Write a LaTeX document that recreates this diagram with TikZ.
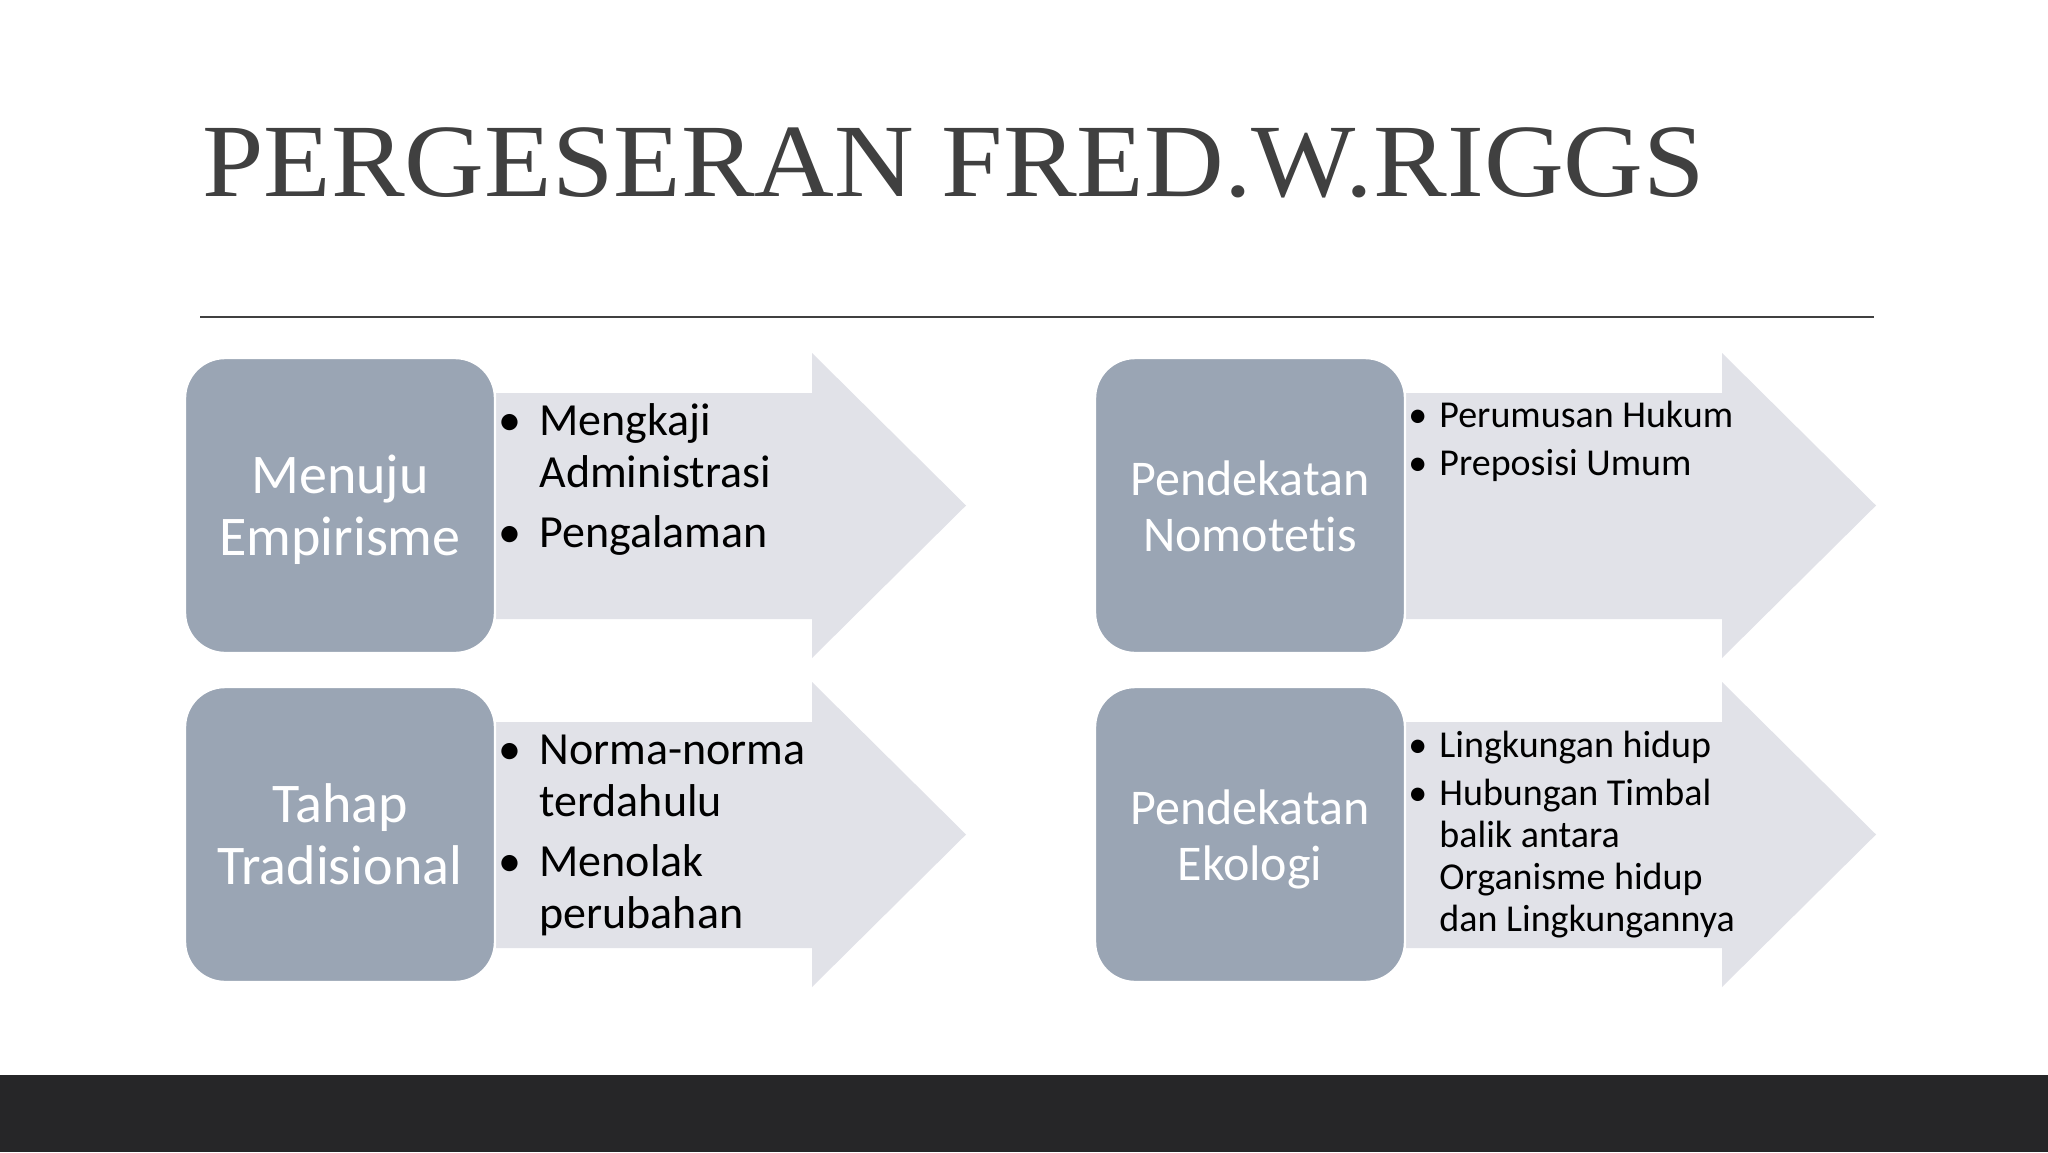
\documentclass[tikz,border=0pt]{standalone}
\usepackage{fontspec}
\setmainfont{Carlito}[Ligatures=NoCommon]
\newfontfamily\titlefont{Liberation Serif}
\definecolor{boxcol}{HTML}{9AA5B4}
\definecolor{arrowcol}{HTML}{E1E2E8}
\definecolor{titlecol}{HTML}{404040}
\definecolor{barcol}{HTML}{262628}
\newcommand\myarrow{\fill[arrowcol] (340,393) -- (812,393) -- (812,353) -- (966,505.5) -- (812,658) -- (812,619) -- (340,619) -- cycle;}
\newcommand\bitem[2]{\hangindent=#1\hangafter=1\noindent\makebox[#1][l]{•}#2\par}
\newcommand\boxtext[2]{\raisebox{-3.3pt}[\height][\depth]{\begin{tabular}{@{}c@{}}#1\\#2\end{tabular}}}
\tikzset{
  boxstyle/.style={draw=white, line width=1.2pt, fill=boxcol, rounded corners=20pt,
    minimum width=155pt, minimum height=147.5pt, text=white, inner sep=0pt},
  bigbox/.style={boxstyle, font=\fontsize{28}{31}\selectfont},
  smallbox/.style={boxstyle, font=\fontsize{25}{28}\selectfont},
  listnode/.style={anchor=base west, inner sep=0pt, text=black}
}
\begin{document}
\begin{tikzpicture}[x=0.5pt,y=-0.5pt]
\useasboundingbox (0,0) rectangle (2048,1152);
\fill[white] (0,0) rectangle (2048,1152);
\fill[barcol] (0,1075) rectangle (2048,1152);
\node[anchor=base west, inner sep=0pt, text=titlecol, font=\titlefont\fontsize{52}{60}\selectfont] (title) at (202,196) {\scalebox{1.062}[1]{PERGESERAN FRED.W.RIGGS}};
\coordinate (l1) at (200,317);
\coordinate (l2) at (1874,317);
\draw[titlecol, line width=1pt] (l1) -- (l2);
% row 1 col 1
\myarrow
\node[bigbox] (b1) at (340,505.5) {\boxtext{Menuju}{Empirisme}};
\node[listnode] (t1) at (498,435) {\parbox[t]{200pt}{\raggedright\fontsize{23}{26}\selectfont\setlength\parskip{4pt}%
\bitem{20.5pt}{Mengkaji\newline Administrasi}%
\bitem{20.5pt}{Pengalaman}}};
% row 2 col 1
\begin{scope}[shift={(0,329)}]
\myarrow
\node[bigbox] (b2) at (340,505.5) {\boxtext{Tahap}{Tradisional}};
\node[listnode] (t2) at (498,435) {\parbox[t]{200pt}{\raggedright\fontsize{23}{26}\selectfont\setlength\parskip{4pt}%
\bitem{20.5pt}{Norma-norma\newline terdahulu}%
\bitem{20.5pt}{Menolak\newline perubahan}}};
\end{scope}
% row 1 col 2
\begin{scope}[shift={(910,0)}]
\myarrow
\node[smallbox] (b3) at (340,505.5) {\boxtext{Pendekatan}{Nomotetis}};
\node[listnode] (t3) at (498,427) {\parbox[t]{200pt}{\raggedright\fontsize{19}{21}\selectfont\setlength\parskip{3pt}%
\bitem{15.5pt}{Perumusan Hukum}%
\bitem{15.5pt}{Preposisi Umum}}};
\end{scope}
% row 2 col 2
\begin{scope}[shift={(910,329)}]
\myarrow
\node[smallbox] (b4) at (340,505.5) {\boxtext{Pendekatan}{Ekologi}};
\node[listnode] (t4) at (498,428) {\parbox[t]{200pt}{\raggedright\fontsize{19}{21}\selectfont\setlength\parskip{3pt}%
\bitem{15.5pt}{Lingkungan hidup}%
\bitem{15.5pt}{Hubungan Timbal\newline balik antara\newline Organisme hidup\newline dan Lingkungannya}}};
\end{scope}
\end{tikzpicture}
\end{document}
